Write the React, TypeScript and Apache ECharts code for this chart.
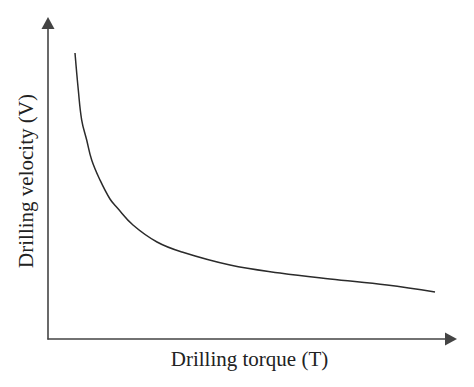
import React, { useEffect, useRef } from "react";
import * as echarts from "echarts";

const torque: number[] = [6.7, 7.52, 8.36, 9.6, 10.84, 12.9, 15.38, 17.12, 21.09, 27.05, 33.25, 45.16, 57.57, 69.98, 84.12, 96.03];
const velocity: number[] = [90.51, 78.8, 69.3, 62.97, 56.65, 50.32, 44.3, 41.61, 36.08, 30.7, 27.53, 23.42, 20.89, 18.99, 17.09, 14.87];
const xName = "Drilling torque (T)";
const yName = "Drilling velocity (V)";

export default function App() {
  const ref = useRef<HTMLDivElement>(null);
  useEffect(() => {
    document.body.style.margin = "0";
    const chart = echarts.init(ref.current!, undefined, { renderer: "svg" });
    const axisLine = {
      show: true,
      symbol: ["none", "triangle"],
      symbolSize: [13, 12],
      lineStyle: { color: "#444", width: 1.6 },
    };
    const nameStyle = { fontFamily: "Liberation Serif", fontSize: 21, color: "#222" };
    chart.setOption({
      animation: false,
      backgroundColor: "#fff",
      grid: { left: 48, right: 23, top: 23, bottom: 48 },
      xAxis: {
        type: "value",
        min: 0,
        max: 100,
        name: xName,
        nameLocation: "middle",
        nameGap: 9,
        nameTextStyle: nameStyle,
        axisLine,
        axisTick: { show: false },
        axisLabel: { show: false },
        splitLine: { show: false },
      },
      yAxis: {
        type: "value",
        min: 0,
        max: 100,
        name: yName,
        nameLocation: "middle",
        nameGap: 12,
        nameTextStyle: nameStyle,
        axisLine,
        axisTick: { show: false },
        axisLabel: { show: false },
        splitLine: { show: false },
      },
      series: [
        {
          type: "line",
          data: torque.map((t, i) => [t, velocity[i]]),
          smooth: 0.4,
          showSymbol: false,
          symbol: "none",
          lineStyle: { color: "#2b2b2b", width: 1.5 },
        },
      ],
    });
    return () => chart.dispose();
  }, []);
  return <div ref={ref} style={{ width: 474, height: 387 }} />;
}
